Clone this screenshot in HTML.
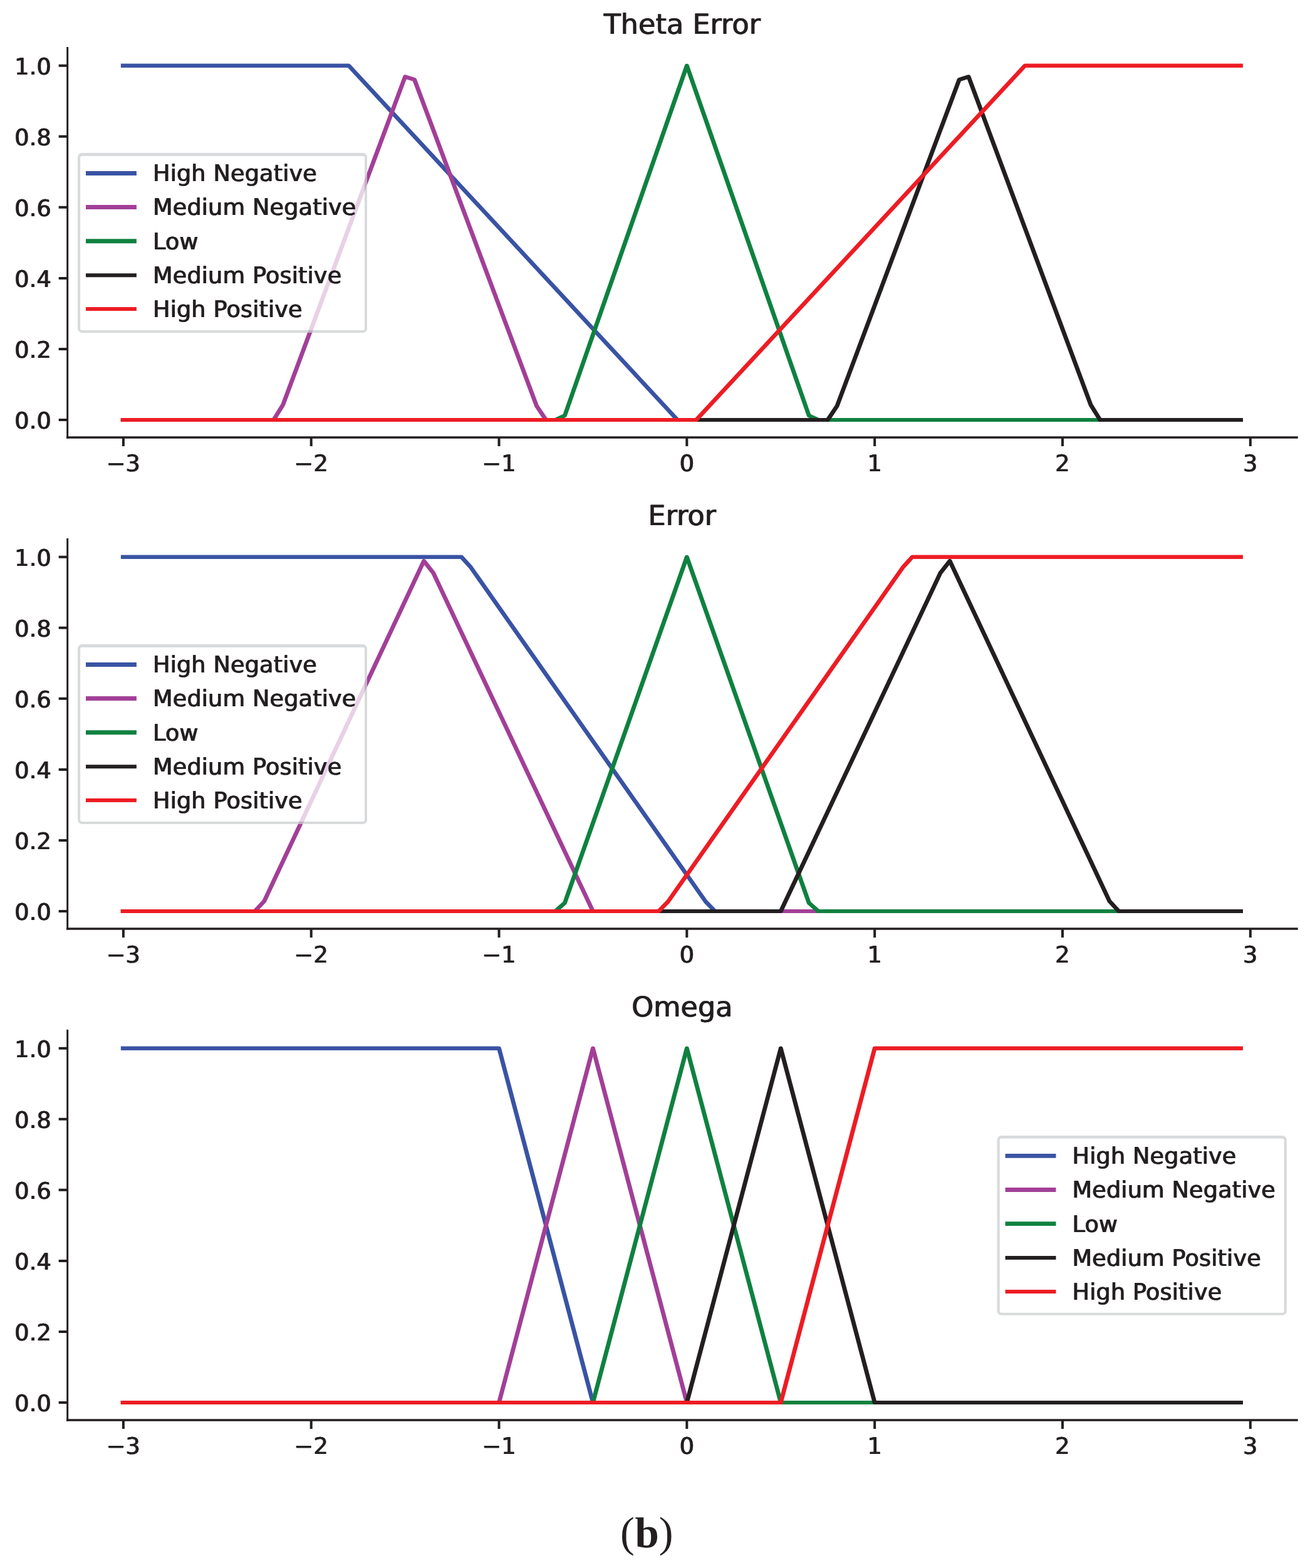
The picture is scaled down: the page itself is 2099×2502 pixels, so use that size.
<!DOCTYPE html>
<html lang="en"><head><meta charset="utf-8"><title>Membership functions (b)</title>
<style>html,body{margin:0;padding:0;background:#fff}body{width:2099px;height:2502px;overflow:hidden}svg{display:block}text{font-family:"DejaVu Sans","Liberation Sans",sans-serif;fill:#231F20;stroke:#231F20;stroke-width:0.2px;stroke-linejoin:round;filter:url(#emb);text-rendering:geometricPrecision}.tk{font-size:36.6px;letter-spacing:0.15px}.tt{font-size:44.4px;text-anchor:middle;letter-spacing:0.08px}.lg{font-size:36.6px;letter-spacing:0.16px}.cap{font-family:"Liberation Serif","DejaVu Serif",serif;font-weight:normal;font-size:68.5px;stroke:none;filter:none}.cap tspan.b{font-weight:bold;font-size:69px}</style></head><body>
<svg width="2099" height="2502" viewBox="0 0 2099 2502">
<defs><filter id="emb" x="-10%" y="-20%" width="120%" height="140%" color-interpolation-filters="sRGB"><feOffset in="SourceGraphic" dx="1" dy="0" result="s"/><feMerge><feMergeNode in="s"/><feMergeNode in="SourceGraphic"/></feMerge></filter></defs>
<rect width="2099" height="2502" fill="#fff"/>
<g>
<text class="tt" x="1088.35" y="54.04">Theta Error</text>
<g fill="none" stroke-width="5.9" stroke-linejoin="round" stroke-linecap="square">
<polyline stroke="#3953A4" points="195.89,104.7 556.17,104.7 1080.86,670 1980.82,670"/>
<polyline stroke="#3953A4" points="195.89,104.7 557.17,104.7 1081.86,670 1980.82,670"/>
<polyline stroke="#A23F97" points="195.89,670 436.25,670 451.24,645.84 646.12,122.42 661.11,127.12 855.99,647.58 870.98,670 1980.82,670"/>
<polyline stroke="#A23F97" points="195.89,670 437.25,670 452.24,645.84 647.12,122.42 662.11,127.12 856.99,647.58 871.98,670 1980.82,670"/>
<polyline stroke="#0F8140" points="195.89,670 885.98,670 900.97,663.13 1095.85,104.7 1290.73,663.13 1305.72,670 1980.82,670"/>
<polyline stroke="#0F8140" points="195.89,670 886.98,670 901.97,663.13 1096.85,104.7 1291.73,663.13 1306.72,670 1980.82,670"/>
<polyline stroke="#231F20" points="195.89,670 1320.71,670 1335.71,647.58 1530.59,127.12 1545.58,122.42 1740.46,645.84 1755.45,670 1980.82,670"/>
<polyline stroke="#231F20" points="195.89,670 1321.71,670 1336.71,647.58 1531.59,127.12 1546.58,122.42 1741.46,645.84 1756.45,670 1980.82,670"/>
<polyline stroke="#ED1C24" points="195.89,670 1110.84,670 1635.53,104.7 1980.82,104.7"/>
<polyline stroke="#ED1C24" points="195.89,670 1111.84,670 1636.53,104.7 1980.82,104.7"/>
</g>
<g fill="none" stroke="#231F20">
<path stroke-width="3" stroke-linecap="square" d="M107.7 76.44V698.26"/>
<path stroke-width="3.5" stroke-linecap="square" d="M107.7 697.97H2070"/>
<path stroke-width="4" d="M196.89 697.97v14M496.71 697.97v14M796.53 697.97v14M1096.35 697.97v14M1396.17 697.97v14M1695.99 697.97v14M1995.81 697.97v14M107.7 670h-14M107.7 556.94h-14M107.7 443.88h-14M107.7 330.82h-14M107.7 217.76h-14M107.7 104.7h-14"/>
</g>
<g class="tk" text-anchor="middle">
<text x="196.39" y="752.26">−3</text>
<text x="496.21" y="752.26">−2</text>
<text x="796.03" y="752.26">−1</text>
<text x="1095.85" y="752.26">0</text>
<text x="1395.67" y="752.26">1</text>
<text x="1695.49" y="752.26">2</text>
<text x="1995.31" y="752.26">3</text>
</g>
<g class="tk" text-anchor="end">
<text x="81.4" y="684.2">0.0</text>
<text x="81.4" y="571.14">0.2</text>
<text x="81.4" y="458.08">0.4</text>
<text x="81.4" y="345.02">0.6</text>
<text x="81.4" y="231.96">0.8</text>
<text x="81.4" y="118.9">1.0</text>
</g>
<g>
<g opacity="0.76" fill="#fff" stroke="#CDCFD1" stroke-width="4">
<rect x="126.1" y="246.1" width="457.9" height="282" rx="4.8" ry="4.8"/>
<rect x="126.1" y="246.9" width="457.9" height="282" rx="4.8" ry="4.8"/>
</g>
<line x1="140.45" y1="276.45" x2="214.45" y2="276.45" stroke="#3953A4" stroke-width="6.9" stroke-linecap="square"/>
<text class="lg" x="243.5" y="289">High Negative</text>
<line x1="140.45" y1="330.55" x2="214.45" y2="330.55" stroke="#A23F97" stroke-width="6.9" stroke-linecap="square"/>
<text class="lg" x="243.5" y="343">Medium Negative</text>
<line x1="140.45" y1="384.75" x2="214.45" y2="384.75" stroke="#0F8140" stroke-width="6.9" stroke-linecap="square"/>
<text class="lg" x="243.5" y="398">Low</text>
<line x1="140" y1="439.15" x2="214.9" y2="439.15" stroke="#231F20" stroke-width="6" stroke-linecap="square"/>
<text class="lg" x="243.5" y="452">Medium Positive</text>
<line x1="140" y1="493.1" x2="214.9" y2="493.1" stroke="#ED1C24" stroke-width="6" stroke-linecap="square"/>
<text class="lg" x="243.5" y="506">High Positive</text>
</g>
</g>
<g>
<text class="tt" x="1088.35" y="838.04">Error</text>
<g fill="none" stroke-width="5.9" stroke-linejoin="round" stroke-linecap="square">
<polyline stroke="#3953A4" points="195.89,888.7 736.07,888.7 751.06,905.34 1125.83,1438.64 1140.82,1454 1980.82,1454"/>
<polyline stroke="#3953A4" points="195.89,888.7 737.07,888.7 752.06,905.34 1126.83,1438.64 1141.82,1454 1980.82,1454"/>
<polyline stroke="#A23F97" points="195.89,1454 406.26,1454 421.25,1438.03 676.1,895.09 691.09,914.11 945.94,1454 1980.82,1454"/>
<polyline stroke="#A23F97" points="195.89,1454 407.26,1454 422.25,1438.03 677.1,895.09 692.09,914.11 946.94,1454 1980.82,1454"/>
<polyline stroke="#0F8140" points="195.89,1454 885.98,1454 900.97,1440.83 1095.85,888.7 1290.73,1440.83 1305.72,1454 1980.82,1454"/>
<polyline stroke="#0F8140" points="195.89,1454 886.98,1454 901.97,1440.83 1096.85,888.7 1291.73,1440.83 1306.72,1454 1980.82,1454"/>
<polyline stroke="#231F20" points="195.89,1454 1245.76,1454 1500.61,914.11 1515.6,895.09 1770.44,1438.03 1785.44,1454 1980.82,1454"/>
<polyline stroke="#231F20" points="195.89,1454 1246.76,1454 1501.61,914.11 1516.6,895.09 1771.44,1438.03 1786.44,1454 1980.82,1454"/>
<polyline stroke="#ED1C24" points="195.89,1454 1050.88,1454 1065.87,1438.64 1440.64,905.34 1455.63,888.7 1980.82,888.7"/>
<polyline stroke="#ED1C24" points="195.89,1454 1051.88,1454 1066.87,1438.64 1441.64,905.34 1456.63,888.7 1980.82,888.7"/>
</g>
<g fill="none" stroke="#231F20">
<path stroke-width="3" stroke-linecap="square" d="M107.7 860.44V1482.27"/>
<path stroke-width="3.5" stroke-linecap="square" d="M107.7 1481.97H2070"/>
<path stroke-width="4" d="M196.89 1481.97v14M496.71 1481.97v14M796.53 1481.97v14M1096.35 1481.97v14M1396.17 1481.97v14M1695.99 1481.97v14M1995.81 1481.97v14M107.7 1454h-14M107.7 1340.94h-14M107.7 1227.88h-14M107.7 1114.82h-14M107.7 1001.76h-14M107.7 888.7h-14"/>
</g>
<g class="tk" text-anchor="middle">
<text x="196.39" y="1536.27">−3</text>
<text x="496.21" y="1536.27">−2</text>
<text x="796.03" y="1536.27">−1</text>
<text x="1095.85" y="1536.27">0</text>
<text x="1395.67" y="1536.27">1</text>
<text x="1695.49" y="1536.27">2</text>
<text x="1995.31" y="1536.27">3</text>
</g>
<g class="tk" text-anchor="end">
<text x="81.4" y="1468.2">0.0</text>
<text x="81.4" y="1355.14">0.2</text>
<text x="81.4" y="1242.08">0.4</text>
<text x="81.4" y="1129.02">0.6</text>
<text x="81.4" y="1015.96">0.8</text>
<text x="81.4" y="902.9">1.0</text>
</g>
<g>
<g opacity="0.76" fill="#fff" stroke="#CDCFD1" stroke-width="4">
<rect x="126.1" y="1030.1" width="457.9" height="282" rx="4.8" ry="4.8"/>
<rect x="126.1" y="1030.9" width="457.9" height="282" rx="4.8" ry="4.8"/>
</g>
<line x1="140.45" y1="1060.45" x2="214.45" y2="1060.45" stroke="#3953A4" stroke-width="6.9" stroke-linecap="square"/>
<text class="lg" x="243.5" y="1073">High Negative</text>
<line x1="140.45" y1="1114.55" x2="214.45" y2="1114.55" stroke="#A23F97" stroke-width="6.9" stroke-linecap="square"/>
<text class="lg" x="243.5" y="1127">Medium Negative</text>
<line x1="140.45" y1="1168.75" x2="214.45" y2="1168.75" stroke="#0F8140" stroke-width="6.9" stroke-linecap="square"/>
<text class="lg" x="243.5" y="1182">Low</text>
<line x1="140" y1="1223.15" x2="214.9" y2="1223.15" stroke="#231F20" stroke-width="6" stroke-linecap="square"/>
<text class="lg" x="243.5" y="1236">Medium Positive</text>
<line x1="140" y1="1277.1" x2="214.9" y2="1277.1" stroke="#ED1C24" stroke-width="6" stroke-linecap="square"/>
<text class="lg" x="243.5" y="1290">High Positive</text>
</g>
</g>
<g>
<text class="tt" x="1088.35" y="1622.03">Omega</text>
<g fill="none" stroke-width="5.9" stroke-linejoin="round" stroke-linecap="square">
<polyline stroke="#3953A4" points="195.89,1672.7 796.03,1672.7 945.94,2238 1980.82,2238"/>
<polyline stroke="#3953A4" points="195.89,1672.7 797.03,1672.7 946.94,2238 1980.82,2238"/>
<polyline stroke="#A23F97" points="195.89,2238 796.03,2238 945.94,1672.7 1095.85,2238 1980.82,2238"/>
<polyline stroke="#A23F97" points="195.89,2238 797.03,2238 946.94,1672.7 1096.85,2238 1980.82,2238"/>
<polyline stroke="#0F8140" points="195.89,2238 945.94,2238 1095.85,1672.7 1245.76,2238 1980.82,2238"/>
<polyline stroke="#0F8140" points="195.89,2238 946.94,2238 1096.85,1672.7 1246.76,2238 1980.82,2238"/>
<polyline stroke="#231F20" points="195.89,2238 1095.85,2238 1245.76,1672.7 1395.67,2238 1980.82,2238"/>
<polyline stroke="#231F20" points="195.89,2238 1096.85,2238 1246.76,1672.7 1396.67,2238 1980.82,2238"/>
<polyline stroke="#ED1C24" points="195.89,2238 1245.76,2238 1395.67,1672.7 1980.82,1672.7"/>
<polyline stroke="#ED1C24" points="195.89,2238 1246.76,2238 1396.67,1672.7 1980.82,1672.7"/>
</g>
<g fill="none" stroke="#231F20">
<path stroke-width="3" stroke-linecap="square" d="M107.7 1644.43V2266.26"/>
<path stroke-width="3.5" stroke-linecap="square" d="M107.7 2265.96H2070"/>
<path stroke-width="4" d="M196.89 2265.96v14M496.71 2265.96v14M796.53 2265.96v14M1096.35 2265.96v14M1396.17 2265.96v14M1695.99 2265.96v14M1995.81 2265.96v14M107.7 2238h-14M107.7 2124.94h-14M107.7 2011.88h-14M107.7 1898.82h-14M107.7 1785.76h-14M107.7 1672.7h-14"/>
</g>
<g class="tk" text-anchor="middle">
<text x="196.39" y="2320.26">−3</text>
<text x="496.21" y="2320.26">−2</text>
<text x="796.03" y="2320.26">−1</text>
<text x="1095.85" y="2320.26">0</text>
<text x="1395.67" y="2320.26">1</text>
<text x="1695.49" y="2320.26">2</text>
<text x="1995.31" y="2320.26">3</text>
</g>
<g class="tk" text-anchor="end">
<text x="81.4" y="2252.2">0.0</text>
<text x="81.4" y="2139.14">0.2</text>
<text x="81.4" y="2026.08">0.4</text>
<text x="81.4" y="1913.02">0.6</text>
<text x="81.4" y="1799.96">0.8</text>
<text x="81.4" y="1686.9">1.0</text>
</g>
<g>
<g opacity="0.76" fill="#fff" stroke="#CDCFD1" stroke-width="4">
<rect x="1593.7" y="1814" width="457.9" height="282" rx="4.8" ry="4.8"/>
<rect x="1593.7" y="1814.8" width="457.9" height="282" rx="4.8" ry="4.8"/>
</g>
<line x1="1608.05" y1="1844.35" x2="1682.05" y2="1844.35" stroke="#3953A4" stroke-width="6.9" stroke-linecap="square"/>
<text class="lg" x="1711.1" y="1857">High Negative</text>
<line x1="1608.05" y1="1898.45" x2="1682.05" y2="1898.45" stroke="#A23F97" stroke-width="6.9" stroke-linecap="square"/>
<text class="lg" x="1711.1" y="1911">Medium Negative</text>
<line x1="1608.05" y1="1952.65" x2="1682.05" y2="1952.65" stroke="#0F8140" stroke-width="6.9" stroke-linecap="square"/>
<text class="lg" x="1711.1" y="1966">Low</text>
<line x1="1607.6" y1="2007.05" x2="1682.5" y2="2007.05" stroke="#231F20" stroke-width="6" stroke-linecap="square"/>
<text class="lg" x="1711.1" y="2020">Medium Positive</text>
<line x1="1607.6" y1="2061" x2="1682.5" y2="2061" stroke="#ED1C24" stroke-width="6" stroke-linecap="square"/>
<text class="lg" x="1711.1" y="2074">High Positive</text>
</g>
</g>
<text class="cap" x="990.05" y="2468.4">(<tspan class="b" dx="0.7" dy="0.8">b</tspan><tspan dx="-0.1" dy="-0.8">)</tspan></text>
</svg></body></html>
